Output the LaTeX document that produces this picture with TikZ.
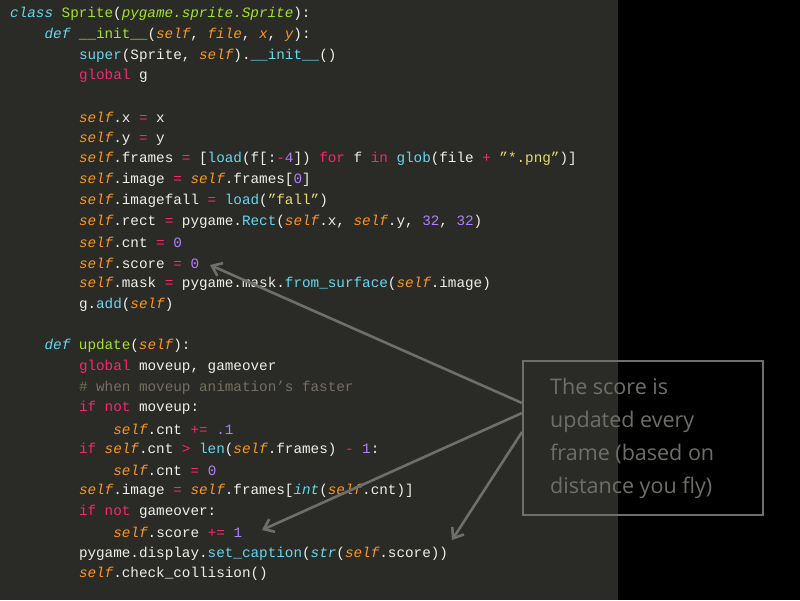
\documentclass[tikz,border=0pt]{standalone}
\usepackage{fontspec}
\setmainfont{Liberation Mono}[Ligatures=NoCommon]
\newfontfamily\boxfont{Open Sans}
\usetikzlibrary{arrows.meta}
\definecolor{bg}{HTML}{2A2A26}
\definecolor{fg}{HTML}{F0F0EA}
\definecolor{kw}{HTML}{F92672}
\definecolor{cy}{HTML}{66D9EF}
\definecolor{gr}{HTML}{A6E22E}
\definecolor{og}{HTML}{FD971F}
\definecolor{pu}{HTML}{AE81FF}
\definecolor{ye}{HTML}{E6DB74}
\definecolor{cm}{HTML}{75715E}
\definecolor{an}{HTML}{6E6E6A}
\newcommand\K[1]{{\color{kw}#1}}
\newcommand\D[1]{{\color{cy}\itshape #1}}
\newcommand\B[1]{{\color{cy}#1}}
\newcommand\G[1]{{\color{gr}#1}}
\newcommand\Gi[1]{{\color{gr}\itshape #1}}
\newcommand\Sf{{\color{og}\itshape self}}
\newcommand\Oi[1]{{\color{og}\itshape #1}}
\newcommand\N[1]{{\color{pu}#1}}
\newcommand\Y[1]{{\color{ye}#1}}
\newcommand\Cm[1]{{\color{cm}#1}}
\newcommand\Q{\symbol{34}}
\begin{document}
\begin{tikzpicture}[x=1pt,y=-1pt,
  code/.style={anchor=west,inner sep=0pt,text=fg,font=\fontsize{14.3}{16}\selectfont},
  arr/.style={draw=an,line width=2.6pt,-{Straight Barb[length=9pt,width=14pt,line width=2.6pt]}}]
\fill[black] (0,0) rectangle (800,600);
\fill[bg] (0,0) rectangle (618,600);
\def\ind{34.4}
\newcommand\Ln[3]{\node[code] (l#1) at (10+#2*\ind,{14+(#1-1)*20.75}) {#3};}
\Ln{1}{0}{\D{class} \G{Sprite}(\Gi{pygame.sprite.Sprite}):}
\Ln{2}{1}{\D{def} \G{\_\_init\_\_}(\Oi{self}, \Oi{file}, \Oi{x}, \Oi{y}):}
\Ln{3}{2}{\B{super}(Sprite, \Sf).\B{\_\_init\_\_}()}
\Ln{4}{2}{\K{global} g}
\Ln{6}{2}{\Sf.x \K{=} x}
\Ln{7}{2}{\Sf.y \K{=} y}
\Ln{8}{2}{\Sf.frames \K{=} [\B{load}(f[:\K{-}\N{4}]) \K{for} f \K{in} \B{glob}(file \K{+} \Y{\Q*.png\Q})]}
\Ln{9}{2}{\Sf.image \K{=} \Sf.frames[\N{0}]}
\Ln{10}{2}{\Sf.imagefall \K{=} \B{load}(\Y{\Q fall\Q})}
\Ln{11}{2}{\Sf.rect \K{=} pygame.\B{Rect}(\Sf.x, \Sf.y, \N{32}, \N{32})}
\Ln{12}{2}{\Sf.cnt \K{=} \N{0}}
\Ln{13}{2}{\Sf.score \K{=} \N{0}}
\Ln{14}{2}{\Sf.mask \K{=} pygame.mask.\B{from\_surface}(\Sf.image)}
\Ln{15}{2}{g.\B{add}(\Sf)}
\Ln{17}{1}{\D{def} \G{update}(\Oi{self}):}
\Ln{18}{2}{\K{global} moveup, gameover}
\Ln{19}{2}{\Cm{\# when moveup animation\symbol{39}s faster}}
\Ln{20}{2}{\K{if} \K{not} moveup:}
\Ln{21}{3}{\Sf.cnt \K{+=} \N{.1}}
\Ln{22}{2}{\K{if} \Sf.cnt \K{>} \B{len}(\Sf.frames) \K{-} \N{1}:}
\Ln{23}{3}{\Sf.cnt \K{=} \N{0}}
\Ln{24}{2}{\Sf.image \K{=} \Sf.frames[\D{int}(\Sf.cnt)]}
\Ln{25}{2}{\K{if} \K{not} gameover:}
\Ln{26}{3}{\Sf.score \K{+=} \N{1}}
\Ln{27}{2}{pygame.display.\B{set\_caption}(\D{str}(\Sf.score))}
\Ln{28}{2}{\Sf.check\_collision()}
\node[draw=an,line width=2.2pt,minimum width=240pt,minimum height=154pt,anchor=north west,inner sep=0pt] (box) at (522,360) {};
\node[anchor=north west,text=an,align=left,inner sep=0pt,font=\boxfont\fontsize{21.5}{33}\selectfont] (txt) at (550,378) {The score is\\updated every\\frame (based on\\distance you fly)};
\coordinate (t1) at (210,265);
\coordinate (t2) at (262,530);
\coordinate (t3) at (452,540);
\draw[arr] ([yshift=-43pt]box.north west) -- (t1);
\draw[arr] ([yshift=-53pt]box.north west) -- (t2);
\draw[arr] ([yshift=-72pt]box.north west) -- (t3);
\end{tikzpicture}
\end{document}
